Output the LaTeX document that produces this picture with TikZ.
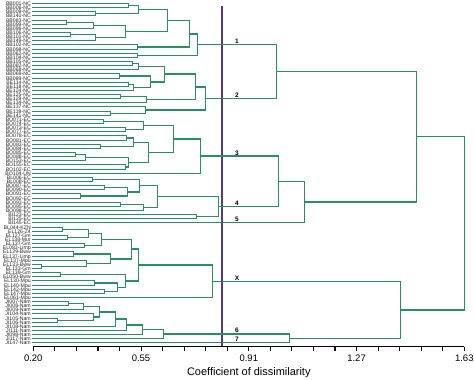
\documentclass[tikz,border=0pt]{standalone}
\usepackage{fontspec}
\setmainfont{Liberation Sans}
\usetikzlibrary{calc}
\definecolor{dgreen}{RGB}{40,145,100}
\definecolor{vpurple}{RGB}{85,55,140}
\newcommand\dgjoin[4]{%
  \path let \p1=(#3), \p2=(#4) in ({(#2+0.5)*1bp},{0.5*\y1+0.5*\y2}) coordinate (#1);
  \draw[br] (#3) -| (#1) |- (#4);}
\tikzset{
  br/.style={draw=dgreen, line width=1.5bp, line join=miter},
  leaf/.style={anchor=east, inner sep=0.5pt, text height=3.6pt, text depth=0pt,
    font=\fontsize{5.2}{5.2}\selectfont, text=black!85},
  cl/.style={anchor=south, inner sep=0.9pt, font=\fontsize{6.5}{6.5}\selectfont\bfseries},
  tick/.style={font=\fontsize{9.5}{9.5}\selectfont, inner sep=0pt},
  vline/.style={draw=vpurple, line width=1.5pt},
  axis/.style={draw=black, line width=1.1bp}
}
\begin{document}
\begin{tikzpicture}[x=1bp,y=-1bp]
\useasboundingbox (0,0) rectangle (474,379);
% leaves
\foreach \t [count=\i from 0] in {BB001-NC,BB006-NC,BB009-NC,BB140-NC,BB083-NC,BB099-NC,BB096-NC,BB106-NC,BB101-NC,BB149-NC,BB102-NC,BB098-NC,BB062-NC,BB104-NC,BB105-NC,BB082-NC,BB068-NC,BB069-NC,BB089-NC,BE114-NC,BE118-NC,BE124-NC,BE125-NC,BE129-NC,BE134-NC,BE137-NC,BE139-NC,BE141-NC,BO071-EC,BO074-EC,BO073-EC,BO077-EC,BO078-EC,BO081-EC,BO083-EC,BO084-EC,BO085-EC,BO088-EC,BO153-EC,BO155-EC,BO102-EC,BO104-UN,BL006-EC,BL008-EC,BO087-EC,BO090-EC,BO091-EC,BO092-EC,BO093-EC,BO095-EC,BO098-EC,BI123-EC,BI125-EC,BI145-EC,BL044-KZN,EL126-Z4,EL127-Gm,EL138-Mur,EL137-Gm,EL083-Limp,EL129-Bww,EL137-Limp,EL137-Mpu,EL133-Bww,EL133-Gm,EL139-Gm,EL050-Bww,EL130-Mpu,EL140-Mpu,EL142-Mpu,EL147-Mpu,EL061-Mpu,JI007-Nam,JI008-Nam,JI009-Nam,JI104-Nam,JI105-Nam,JI106-Nam,JI108-Nam,JI111-Nam,JI098-Nam,JI117-Nam,JI147-Nam}
  \node[leaf] (l\i) at (31.5,{floor(3.5+4.14*\i)+0.5}) {\t};
% purple cut line
\coordinate (ptop) at (222,6);
\coordinate (pbot) at (222,346.5);
\draw[vline] (ptop) -- (pbot);
% cluster 1
\dgjoin{a1}{128}{l0}{l1}
\dgjoin{a2}{95}{l2}{l3}
\dgjoin{a3}{138}{a1}{a2}
\dgjoin{a4}{66}{l4}{l5}
\dgjoin{a5}{93}{a4}{l6}
\dgjoin{a6}{70}{l7}{l8}
\dgjoin{a7}{95}{a6}{l9}
\dgjoin{a8}{125}{a5}{a7}
\dgjoin{a9}{167}{a3}{a8}
\dgjoin{a10}{137}{l10}{l11}
\dgjoin{a11}{189}{a9}{a10}
\dgjoin{a12}{137}{l12}{l13}
\dgjoin{c1}{197}{a11}{a12}
% cluster 2
\dgjoin{b1}{132}{l14}{l15}
\dgjoin{b2}{138}{b1}{l16}
\dgjoin{b3}{119}{l17}{l18}
\dgjoin{b4}{128}{l19}{l20}
\dgjoin{b5}{133}{b4}{l21}
\dgjoin{b6}{150}{b3}{b5}
\dgjoin{b7}{164}{b2}{b6}
\dgjoin{b8}{120}{l22}{l23}
\dgjoin{b9}{146}{b8}{l24}
\dgjoin{b10}{195}{b7}{b9}
\dgjoin{b11}{110}{l26}{l27}
\dgjoin{b12}{145}{l25}{b11}
\dgjoin{c2}{205}{b10}{b12}
% cluster 3
\dgjoin{d1}{103}{l28}{l29}
\dgjoin{d2}{125}{l30}{l31}
\dgjoin{d3}{143}{d1}{d2}
\dgjoin{d4}{126}{l32}{l33}
\dgjoin{d5}{100}{l34}{l35}
\dgjoin{d6}{133}{d4}{d5}
\dgjoin{d7}{75}{l36}{l37}
\dgjoin{d8}{85}{d7}{l38}
\dgjoin{d9}{125}{l39}{l40}
\dgjoin{d10}{128}{d8}{d9}
\dgjoin{d11}{148}{d6}{d10}
\dgjoin{d12}{173}{d3}{d11}
\dgjoin{c3}{200}{d12}{l41}
% cluster 4
\dgjoin{e1}{92}{l42}{l43}
\dgjoin{e2}{104}{l44}{l45}
\dgjoin{e3}{80}{l46}{l47}
\dgjoin{e4}{127}{e2}{e3}
\dgjoin{e5}{139}{e1}{e4}
\dgjoin{e6}{120}{l48}{l49}
\dgjoin{e7}{143}{e6}{l50}
\dgjoin{e8}{157}{e5}{e7}
\dgjoin{e9}{196}{l51}{l52}
\dgjoin{c4}{218}{e8}{e9}
% upper merges
\dgjoin{c34}{278}{c3}{c4}
\dgjoin{c345}{304}{c34}{l53}
\dgjoin{c12}{276}{c1}{c2}
\dgjoin{top}{416}{c12}{c345}
% cluster X
\dgjoin{f1}{62}{l54}{l55}
\dgjoin{f2}{67}{l56}{l57}
\dgjoin{f3}{88}{f1}{f2}
\dgjoin{f4}{84}{l58}{l59}
\dgjoin{f5}{101}{f3}{f4}
\dgjoin{f6}{73}{l60}{l61}
\dgjoin{f7}{41}{l63}{l64}
\dgjoin{f8}{86}{l62}{f7}
\dgjoin{f9}{110}{f6}{f8}
\dgjoin{f10}{131}{f5}{f9}
\dgjoin{f11}{60}{l65}{l66}
\dgjoin{f12}{94}{l67}{l68}
\dgjoin{f13}{104}{l69}{l70}
\dgjoin{f14}{117}{f12}{f13}
\dgjoin{f15}{125}{f11}{f14}
\dgjoin{f16}{138}{f10}{f15}
\dgjoin{cx}{212}{f16}{l71}
% cluster 6 / 7
\dgjoin{g1}{68}{l72}{l73}
\dgjoin{g2}{83}{g1}{l74}
\dgjoin{g3}{57}{l76}{l77}
\dgjoin{g4}{93}{l75}{g3}
\dgjoin{g5}{99}{g2}{g4}
\dgjoin{g6}{115}{g5}{l78}
\dgjoin{g7}{126}{g6}{l79}
\dgjoin{g8}{142}{g7}{l80}
\dgjoin{c6}{163}{g8}{l81}
\dgjoin{c67}{289}{c6}{l82}
\dgjoin{cx67}{400}{cx}{c67}
\dgjoin{root}{464}{top}{cx67}
% cluster labels
\coordinate (lx) at (237,0);
\node[cl] (n1) at (lx |- c1) {1};
\node[cl] (n2) at (lx |- c2) {2};
\node[cl] (n3) at (lx |- c3) {3};
\node[cl] (n4) at (lx |- c4) {4};
\node[cl] (n5) at (lx |- l53) {5};
\node[cl] (nx) at (lx |- cx) {X};
\node[cl] (n6) at (lx |- c6) {6};
\node[cl] (n7) at (lx |- l82) {7};
% axis
\coordinate (ax0) at (33.3,346.5);
\coordinate (ax1) at (464.3,346.5);
\draw[axis] (ax0) -- (ax1);
\foreach \k in {0,...,20}
  \draw[axis] ({33.3+21.55*\k},346.5) -- ++(0,4.5);
\foreach \k/\v in {0/0.20,5/0.55,10/0.91,15/1.27,20/1.63}
  \node[tick] (t\k) at ({33.3+21.55*\k},358) {\v};
\node[font=\fontsize{11}{11}\selectfont, inner sep=0pt] (title) at (248.8,372.5) {Coefficient of dissimilarity};
\end{tikzpicture}
\end{document}
